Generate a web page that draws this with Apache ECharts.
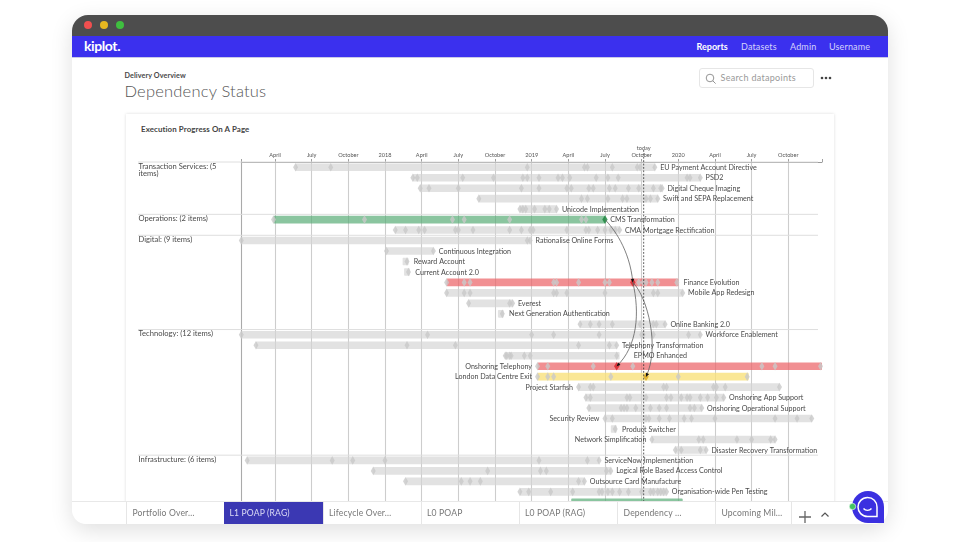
<!DOCTYPE html>
<html>
<head>
<meta charset="utf-8">
<title>Dependency Status</title>
<script src="https://cdn.jsdelivr.net/npm/echarts@6/dist/echarts.min.js"></script>
<style>
  html, body { margin: 0; width: 960px; height: 542px; overflow: hidden; background: #fff; font-family: Lato, sans-serif; }
  div, span, svg { position: absolute; white-space: nowrap; }
  .window { left: 72px; top: 15px; width: 816px; height: 509px; border-radius: 16px; background: #fff; box-shadow: 0 6px 22px rgba(0,0,0,.13); }
  .titlebar { left: 0; top: 0; width: 816px; height: 21px; background: #4d4d4d; border-radius: 16px 16px 0 0; }
  .light { top: 6px; width: 8px; height: 8px; border-radius: 50%; }
  .navbar { left: 0; top: 21px; width: 816px; height: 21px; background: #3b30ee; border-bottom: 1px solid #c9c9e8; }
  .logo { left: 12px; top: 0; font-size: 14px; line-height: 20px; font-weight: 700; color: #fff; letter-spacing: -.4px; }
  .nav { top: 0; font-size: 9px; line-height: 22px; color: #d5d4fb; letter-spacing: .15px; }
  .crumb { left: 124.5px; top: 70.5px; font-size: 7.2px; line-height: 10px; font-weight: 700; color: #484848; letter-spacing: .1px; }
  .title { left: 124.5px; top: 81px; font-size: 16.5px; line-height: 20px; font-weight: 300; color: #555; letter-spacing: .2px; }
  .search { left: 699px; top: 68px; width: 115px; height: 20px; box-sizing: border-box; border: 1px solid #e6e6e6; border-radius: 3px; }
  .search span { left: 20.5px; top: 0; font-size: 9px; line-height: 18px; color: #999; letter-spacing: .3px; }
  .card { left: 125.5px; top: 113.5px; width: 708px; height: 395px; background: #fff; box-shadow: 0 0 3px rgba(0,0,0,.14); }
  .cardtitle { left: 141px; top: 124px; font-size: 7.9px; line-height: 10px; font-weight: 700; color: #444; letter-spacing: .1px; }
  #chart { left: 0; top: 0; width: 960px; height: 542px; }
  .tabbar { left: 72px; top: 501px; width: 816px; height: 23px; background: #fff; border-radius: 0 0 14px 14px; border-top: 1px solid #e8e8e8; box-sizing: border-box; overflow: hidden; }
  .tab { top: -1px; height: 24px; box-sizing: border-box; border-left: 1px solid #e6e6e6; padding-left: 5.5px; font-size: 8.6px; line-height: 24px; color: #777; letter-spacing: .15px; }
  .tab.active { background: #3b38b3; color: #dcdcf5; border-left: none; }
</style>
</head>
<body>
<div class="window">
  <div class="titlebar">
    <div class="light" style="left:12px;background:#f04f4f"></div>
    <div class="light" style="left:28px;background:#e8b820"></div>
    <div class="light" style="left:44px;background:#3fbf3f"></div>
  </div>
  <div class="navbar">
    <div class="logo">kiplot.</div>
    <div class="nav" style="left:624.5px;font-weight:700;color:#fff;letter-spacing:0">Reports</div>
    <div class="nav" style="left:669px">Datasets</div>
    <div class="nav" style="left:718px">Admin</div>
    <div class="nav" style="left:757px">Username</div>
  </div>
</div>
<div class="crumb">Delivery Overview</div>
<div class="title">Dependency Status</div>
<div class="search">
  <svg style="left:5px;top:4px" width="12" height="12" viewBox="0 0 12 12"><circle cx="5" cy="5" r="3.8" fill="none" stroke="#888" stroke-width=".9"/><line x1="7.8" y1="7.8" x2="10.6" y2="10.6" stroke="#888" stroke-width=".9"/></svg>
  <span>Search datapoints</span>
</div>
<svg style="left:820px;top:76px" width="12" height="4" viewBox="0 0 12 4"><circle cx="2" cy="2" r="1.3" fill="#444"/><circle cx="6" cy="2" r="1.3" fill="#444"/><circle cx="10" cy="2" r="1.3" fill="#444"/></svg>
<div class="card"></div>
<div class="cardtitle">Execution Progress On A Page</div>
<div id="chart"></div>
<div class="tabbar">
  <div class="tab" style="left:54px;width:98px">Portfolio Over…</div>
  <div class="tab active" style="left:152px;width:98.5px">L1 POAP (RAG)</div>
  <div class="tab" style="left:250.5px;width:98px">Lifecycle Over…</div>
  <div class="tab" style="left:348.5px;width:98px">L0 POAP</div>
  <div class="tab" style="left:446.5px;width:98.5px">L0 POAP (RAG)</div>
  <div class="tab" style="left:545px;width:98px">Dependency …</div>
  <div class="tab" style="left:643px;width:75px">Upcoming Mil…</div>
  <div class="tab" style="left:718.5px;width:98px"></div>
  <svg style="left:726px;top:8px" width="14" height="14" viewBox="0 0 14 14"><path d="M7 1V13M1 7H13" stroke="#666" stroke-width="1.3"/></svg>
  <svg style="left:748px;top:9px" width="10" height="8" viewBox="0 0 10 8"><path d="M1.5 5.5L5 2L8.5 5.5" fill="none" stroke="#555" stroke-width="1.2"/></svg>
</div>
<svg style="left:848px;top:488px" width="40" height="38" viewBox="0 0 40 38">
  <path d="M20 3C29 3 36 10 36 19V35H20C11 35 4 28 4 19S11 3 20 3Z" fill="#3b30e0"/>
  <path d="M19.5 9.5C25 9.5 29 13.5 29 19V28.5H19.5C14 28.5 10 24 10 19S14 9.5 19.5 9.5Z" fill="none" stroke="#fff" stroke-width="1.5"/>
  <path d="M15.5 20.5C17.5 23 21.5 23 23.5 20.5" fill="none" stroke="#fff" stroke-width="1.4"/>
  <circle cx="4.5" cy="18.5" r="3.2" fill="#43c463" stroke="#fff" stroke-width=".6"/>
</svg>

<script>
// time is in decimal years, 2017.25 = April 2017
var axisMin = 2017.02;
var axisMax = 2020.98;
var tickYears = [2017.25, 2017.5, 2017.75, 2018, 2018.25, 2018.5, 2018.75, 2019, 2019.25, 2019.5, 2019.75, 2020, 2020.25, 2020.5, 2020.75];
var tickLabels = ['April', 'July', 'October', '2018', 'April', 'July', 'October', '2019', 'April', 'July', 'October', '2020', 'April', 'July', 'October'];
var today = 2019.764;

var groupNames = ['Transaction Services: (5 items)', 'Operations: (2 items)', 'Digital: (9 items)', 'Technology: (12 items)', 'Infrastructure: (6 items)'];
var groupFirstRows = [0, 5, 7, 16, 28];

var itemNames = [
  'EU Payment Account Directive', 'PSD2', 'Digital Cheque Imaging', 'Swift and SEPA Replacement', 'Unicode Implementation',
  'CMS Transformation', 'CMA Mortgage Rectification',
  'Rationalise Online Forms', 'Continuous Integration', 'Reward Account', 'Current Account 2.0', 'Finance Evolution',
  'Mobile App Redesign', 'Everest', 'Next Generation Authentication', 'Online Banking 2.0',
  'Workforce Enablement', 'Telephony Transformation', 'EPMO Enhanced', 'Onshoring Telephony', 'London Data Centre Exit',
  'Project Starfish', 'Onshoring App Support', 'Onshoring Operational Support', 'Security Review', 'Product Switcher',
  'Network Simplification', 'Disaster Recovery Transformation',
  'ServiceNow Implementation', 'Logical Role Based Access Control', 'Outsource Card Manufacture', 'Organisation-wide Pen Testing',
  ''
];
var barStarts = [
  2017.39, 2018.19, 2018.24, 2018.64, 2018.92,
  2017.24, 2018.07,
  2017.02, 2018.01, 2018.12, 2018.13, 2018.42, 2018.42, 2018.57, 2018.77, 2019.33,
  2017.02, 2017.12, 2018.82, 2019.04, 2019.04, 2019.32, 2019.37, 2019.39, 2019.50, 2019.54, 2019.82, 2019.98,
  2017.06, 2017.92, 2018.14, 2018.92,
  2019.27
];
var barEnds = [
  2019.84, 2020.15, 2019.89, 2019.86, 2019.17,
  2019.50, 2019.60,
  2018.99, 2018.33, 2018.16, 2018.17, 2020.00, 2020.03, 2018.87, 2018.81, 2019.91,
  2020.15, 2019.58, 2019.60, 2020.98, 2020.48, 2020.69, 2020.31, 2020.16, 2020.91, 2019.58, 2020.66, 2020.19,
  2019.46, 2019.54, 2019.36, 2019.92,
  2020.03
];
var barStatus = {
  'CMS Transformation': 'green',
  'Finance Evolution': 'red',
  'Onshoring Telephony': 'red',
  'London Data Centre Exit': 'amber'
};
barStatus[''] = 'green';
var labelsOnLeft = ['Onshoring Telephony', 'London Data Centre Exit', 'Project Starfish', 'Security Review', 'Network Simplification'];
// EPMO's label sits clear of the dependency lines, not at the end of its bar
var labelAnchors = { 'EPMO Enhanced': 2019.66 };

var milestones = [
  [2017.39, 2017.63, 2018.97, 2019.36, 2019.38, 2019.55, 2019.72, 2019.74, 2019.84],
  [2018.19, 2018.22, 2018.53, 2018.74, 2018.94, 2018.97, 2019.05, 2019.18, 2019.21, 2019.26, 2019.44, 2019.52, 2019.59, 2020.06, 2020.08, 2020.15],
  [2018.24, 2018.30, 2018.50, 2018.93, 2019.05, 2019.24, 2019.27, 2019.39, 2019.42, 2019.53, 2019.57, 2019.66, 2019.73, 2019.83, 2019.88, 2019.89],
  [2018.64, 2019.34, 2019.38, 2019.52, 2019.62, 2019.65, 2019.78, 2019.81, 2019.86],
  [2018.92, 2018.94, 2018.96, 2019.02, 2019.09, 2019.12, 2019.17],
  [2017.24, 2017.86, 2018.46, 2018.54, 2018.85, 2019.34, 2019.37],
  [2018.07, 2018.14, 2018.23, 2018.27, 2018.48, 2018.50, 2018.60, 2018.85, 2018.93, 2018.99, 2019.01, 2019.24, 2019.37, 2019.39, 2019.45, 2019.50, 2019.54, 2019.57, 2019.60],
  [2017.02, 2018.97, 2018.99],
  [2018.01, 2018.33],
  [2018.15],
  [2018.16],
  [2018.42, 2018.54, 2018.58, 2019.15, 2019.17, 2019.32, 2019.50, 2019.53, 2019.73, 2019.76, 2019.78, 2019.82, 2019.86, 2019.99],
  [2018.42, 2018.54, 2018.58, 2019.15, 2019.17, 2019.24, 2019.50, 2019.83, 2019.86, 2020.03],
  [2018.57, 2018.85, 2018.87],
  [2018.80],
  [2019.33, 2019.40, 2019.46, 2019.55, 2019.74, 2019.83, 2019.85, 2019.91],
  [2017.02, 2018.29, 2019.00, 2019.15, 2019.46, 2019.75, 2019.76, 2019.83, 2020.07, 2020.15],
  [2017.12, 2018.15, 2018.48, 2019.32, 2019.53, 2019.58],
  [2018.82, 2018.83, 2018.85, 2018.86, 2018.95, 2018.99, 2019.58],
  [2019.04, 2019.11, 2019.42, 2019.69, 2020.57, 2020.66, 2020.97],
  [2019.04, 2019.11, 2019.15, 2019.54, 2020.00, 2020.47],
  [2019.32, 2019.40, 2019.42, 2019.90, 2019.92, 2020.24, 2020.26, 2020.32, 2020.69],
  [2019.37, 2019.40, 2019.65, 2019.67, 2019.78, 2019.92, 2019.95, 2020.02, 2020.06, 2020.08, 2020.15, 2020.20, 2020.26, 2020.31],
  [2019.39, 2019.61, 2019.63, 2019.65, 2019.71, 2019.81, 2019.87, 2019.92, 2020.08, 2020.11, 2020.16],
  [2019.50, 2019.55, 2019.78, 2019.80, 2019.87, 2019.94, 2020.04, 2020.09, 2020.25, 2020.66, 2020.81, 2020.91],
  [2019.57],
  [2019.82, 2020.14, 2020.17, 2020.40, 2020.50, 2020.63, 2020.66],
  [2019.98, 2020.02, 2020.15, 2020.19],
  [2017.06, 2017.64, 2017.78, 2018.00, 2019.05, 2019.38, 2019.46],
  [2017.92, 2018.70, 2019.06, 2019.10, 2019.51, 2019.54],
  [2018.14, 2018.52, 2018.58, 2018.65, 2019.32, 2019.36],
  [2018.92, 2018.98, 2019.13, 2019.28, 2019.46, 2019.48, 2019.52, 2019.55, 2019.60, 2019.66, 2019.75, 2019.81, 2019.83, 2019.86, 2019.88, 2019.90, 2019.92],
  []
];
// the milestones that carry a dependency: row, year, status
var keyMilestones = [[5, 2019.50, 'green'], [11, 2019.69, 'red'], [19, 2019.58, 'red'], [20, 2019.78, 'amber']];
var dependencies = [[5, 2019.50, 11, 2019.69], [11, 2019.69, 19, 2019.58], [11, 2019.69, 20, 2019.78]];

var font = 'Lato';
var textColor = '#4a4a4a';
var barColors = { none: 'rgba(212,212,212,.68)', green: 'rgba(88,172,118,.7)', red: 'rgba(235,100,104,.72)', amber: 'rgba(248,224,120,.78)' };
var markColors = { green: '#17853a', red: '#d81f26', amber: '#d9a81c' };
// control point offsets of each dependency curve, px from its two ends
var curveBends = [[8, 8, -3, -33], [7, 30, 21, -20], [15, 15, 14, -29]];

var barData = itemNames.map(function (name, i) { return [barStarts[i], barEnds[i], i]; });
var milestoneData = [];
milestones.forEach(function (list, row) {
  list.forEach(function (year) { milestoneData.push([year, row]); });
});

var chart = echarts.init(document.getElementById('chart'));
chart.setOption({
  animation: false,
  grid: { left: 241.3, top: 162, width: 580.7, height: 340.3, containLabel: false },
  xAxis: {
    type: 'value',
    position: 'top',
    min: axisMin,
    max: axisMax,
    axisLine: { onZero: false, lineStyle: { color: '#999', width: 1 } },
    axisTick: { length: 3, customValues: [axisMin].concat(tickYears, [axisMax]), lineStyle: { color: '#888', width: .8 } },
    axisLabel: {
      customValues: tickYears,
      margin: 4,
      fontSize: 5.6,
      fontFamily: font,
      color: '#555',
      formatter: function (v) { return tickLabels[tickYears.indexOf(v)]; }
    },
    splitLine: { show: true, showMinLine: false, showMaxLine: false, lineStyle: { color: '#cdcdcd', width: 1.1 } }
  },
  yAxis: {
    type: 'value',
    inverse: true,
    min: -0.5,
    max: 32,
    axisLine: { show: true, onZero: false, lineStyle: { color: '#aaa', width: 1.1 } },
    axisTick: { show: false },
    axisLabel: { show: false },
    splitLine: { show: false }
  },
  series: [{
    // group separators and group names, in the margin left of the axis
    type: 'custom',
    silent: true,
    z: 1,
    data: groupFirstRows.map(function (row) { return [axisMin, row]; }),
    renderItem: function (params, api) {
      var y = api.coord([axisMin, api.value(1) - 0.5])[1];
      return {
        type: 'group',
        children: [{
          type: 'line',
          shape: { x1: 138, y1: y, x2: 818, y2: y },
          style: { stroke: '#dedede', lineWidth: 1 }
        }, {
          type: 'text',
          style: {
            x: 138.5, y: y + 0.7, text: groupNames[params.dataIndex], width: 95, overflow: 'break',
            fontFamily: font, fontSize: 7.6, lineHeight: 7.4, fill: textColor, align: 'left', verticalAlign: 'top'
          }
        }]
      };
    }
  }, {
    type: 'custom',
    silent: true,
    z: 2,
    data: barData,
    encode: { x: [0, 1], y: 2 },
    renderItem: function (params, api) {
      var row = api.value(2);
      var a = api.coord([api.value(0), row]);
      var b = api.coord([api.value(1), row]);
      return {
        type: 'rect',
        shape: { x: a[0], y: a[1] - 3.8, width: b[0] - a[0], height: 7.6, r: 0.8 },
        style: { fill: barColors[barStatus[itemNames[row]] || 'none'] }
      };
    }
  }, {
    type: 'scatter',
    silent: true,
    z: 3,
    symbol: 'diamond',
    symbolSize: [5, 8.6],
    itemStyle: { color: '#c9c9c9' },
    data: milestoneData
  }, {
    type: 'scatter',
    silent: true,
    z: 4,
    symbol: 'diamond',
    symbolSize: [5.4, 8.6],
    data: keyMilestones.map(function (m) {
      return { value: [m[1], m[0]], itemStyle: { color: markColors[m[2]] } };
    })
  }, {
    type: 'custom',
    silent: true,
    z: 5,
    data: barData,
    encode: { x: [0, 1], y: 2 },
    renderItem: function (params, api) {
      var row = api.value(2);
      var name = itemNames[row];
      if (!name) return null;
      var left = labelsOnLeft.indexOf(name) >= 0;
      var anchor = labelAnchors[name] || api.value(left ? 0 : 1);
      var p = api.coord([anchor, row]);
      return {
        type: 'text',
        style: {
          x: p[0] + (left ? -5.5 : 5.3), y: p[1] + 0.3, text: name,
          fontFamily: font, fontSize: 7.15, fill: textColor, align: left ? 'right' : 'left', verticalAlign: 'middle'
        }
      };
    }
  }, {
    // dependency curves with their arrow heads
    type: 'custom',
    silent: true,
    z: 6,
    data: dependencies,
    encode: { x: [1, 3], y: [0, 2] },
    renderItem: function (params, api) {
      var p0 = api.coord([api.value(1), api.value(0)]);
      var p3 = api.coord([api.value(3), api.value(2)]);
      var bend = curveBends[params.dataIndex];
      var c1 = [p0[0] + bend[0], p0[1] + bend[1]];
      var c2 = [p3[0] + bend[2], p3[1] + bend[3]];
      var angle = Math.atan2(p3[1] - c2[1], p3[0] - c2[0]);
      var head = [
        [p3[0], p3[1]],
        [p3[0] - 4 * Math.cos(angle - 0.45), p3[1] - 4 * Math.sin(angle - 0.45)],
        [p3[0] - 4 * Math.cos(angle + 0.45), p3[1] - 4 * Math.sin(angle + 0.45)]
      ];
      return {
        type: 'group',
        children: [{
          type: 'bezierCurve',
          shape: { x1: p0[0], y1: p0[1], x2: p3[0], y2: p3[1], cpx1: c1[0], cpy1: c1[1], cpx2: c2[0], cpy2: c2[1] },
          style: { stroke: '#5f5f5f', lineWidth: .8, fill: 'none' }
        }, {
          type: 'polygon',
          shape: { points: head },
          style: { fill: '#111' }
        }]
      };
    }
  }, {
    // today marker
    type: 'custom',
    silent: true,
    z: 7,
    data: [[today, -0.5]],
    renderItem: function (params, api) {
      var top = api.coord([api.value(0), -0.5]);
      var bottom = api.coord([api.value(0), 32]);
      return {
        type: 'group',
        children: [{
          type: 'line',
          shape: { x1: top[0], y1: top[1] - 12, x2: bottom[0], y2: bottom[1] },
          style: { stroke: '#333', lineWidth: .8, lineDash: [1.8, 1.6] }
        }, {
          type: 'text',
          style: {
            x: top[0], y: top[1] - 14, text: 'today',
            fontFamily: font, fontSize: 5.6, fill: '#555', align: 'center', verticalAlign: 'middle'
          }
        }]
      };
    }
  }]
});
</script>
</body>
</html>
